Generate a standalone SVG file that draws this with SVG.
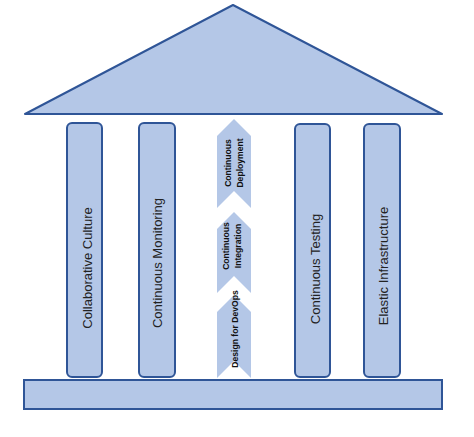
<svg xmlns="http://www.w3.org/2000/svg" width="474" height="437" viewBox="0 0 474 437">
<style>
.sh{fill:#B4C7E7;stroke:#2F5597;stroke-width:2}
.ch{fill:#B4C7E7;stroke:none}
.pt{font-family:"Liberation Sans",Arial,sans-serif;font-size:13px;fill:#222;text-anchor:middle;dominant-baseline:central}
.ct{font-family:"Liberation Sans",Arial,sans-serif;font-size:8.6px;font-weight:bold;fill:#111;text-anchor:middle;dominant-baseline:central}
</style>
<rect width="474" height="437" fill="#fff"/>
<g id="roof"><polygon class="sh" points="233,5 442,114 25,114" stroke-linejoin="round"/></g>
<g id="base"><rect class="sh" x="24" y="380" width="418" height="29"/></g>
<g id="p1"><rect class="sh" x="67" y="123" width="35" height="254" rx="5"/>
<text class="pt" transform="translate(87,268) rotate(-90)">Collaborative Culture</text></g>
<g id="p2"><rect class="sh" x="139" y="123" width="36" height="254" rx="5"/>
<text class="pt" transform="translate(157,263) rotate(-90)">Continuous Monitoring</text></g>
<g id="p3"><rect class="sh" x="295" y="124" width="35" height="253" rx="5"/>
<text class="pt" transform="translate(315,269) rotate(-90)">Continuous Testing</text></g>
<g id="p4"><rect class="sh" x="364" y="124" width="36" height="253" rx="5"/>
<text class="pt" transform="translate(383,266) rotate(-90)">Elastic Infrastructure</text></g>
<g id="c1"><polygon class="ch" points="234,295 251,312 251,378 234,361 217,378 217,312"/>
<text class="ct" transform="translate(235,329) rotate(-90)">Design for DevOps</text></g>
<g id="c2"><polygon class="ch" points="234,212 251,229 251,293 234,276 217,293 217,229"/>
<text class="ct" transform="translate(232,246) rotate(-90)"><tspan x="0" dy="-6">Continuous</tspan><tspan x="0" dy="12">Integration</tspan></text></g>
<g id="c3"><polygon class="ch" points="234,119 251,136 251,208 234,191 217,208 217,136"/>
<text class="ct" transform="translate(234,163) rotate(-90)"><tspan x="0" dy="-6">Continuous</tspan><tspan x="0" dy="12">Deployment</tspan></text></g>
<g id="connectors"></g>
</svg>
